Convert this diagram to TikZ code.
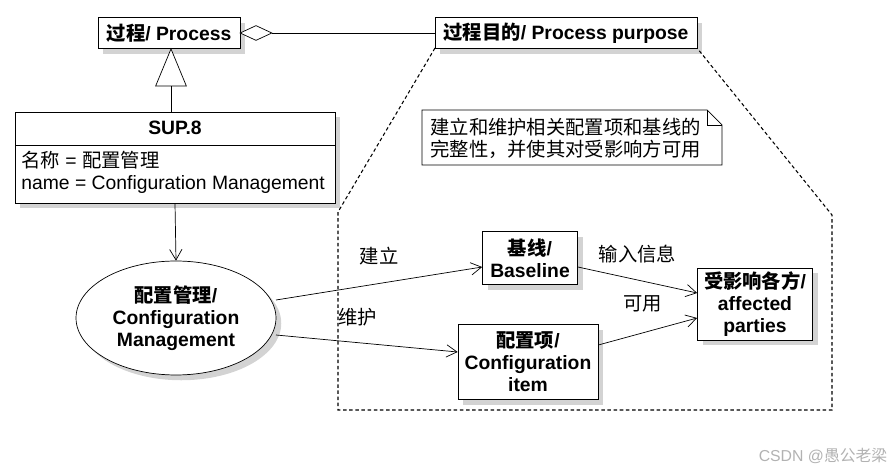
\documentclass[tikz,border=0pt]{standalone}
\usepackage{fontspec}
\setmainfont{Liberation Sans}
\newfontfamily\cjk{Noto Sans CJK SC}
\newcommand{\zh}[1]{{\cjk #1}}
\usetikzlibrary{shapes.geometric,shapes.misc,arrows.meta,shadows}

\begin{document}
\begin{tikzpicture}[x=0.02cm, y=-0.02cm,
    every node/.style={font=\fontsize{11}{12.5}\selectfont},
    box/.style={rectangle, draw=black, fill=white, inner sep=2pt,
        drop shadow={shadow xshift=3pt, shadow yshift=-3pt, opacity=0.35},
        font=\fontsize{11}{12.5}\selectfont\bfseries, align=center},
    flow/.style={-{Straight Barb[length=6pt,width=7pt]}, thin},
    label/.style={font=\fontsize{11}{12.5}\selectfont}
]
    \useasboundingbox (0,0) rectangle (892,472);
    % classes
    \node[box, minimum width=2.84cm, minimum height=0.62cm] (proc) at (169,33) {\zh{过程}/ Process};
    \node[box, minimum width=5.24cm, minimum height=0.62cm] (purp) at (566,33) {\zh{过程目的}/ Process purpose};
    \node[box, minimum width=6.4cm, minimum height=1.82cm] (sup) at (175,157.5) {};
    \node[font=\fontsize{11}{12.5}\selectfont\bfseries] (supt) at (175,128) {SUP.8};
    \draw (15,145) -- (335,145);
    \node[label, anchor=north west, align=left, inner sep=0pt] (attr) at (21,151)
        {\zh{名称} = \zh{配置管理}\\name = Configuration Management};
    % aggregation and generalization
    \node[diamond, draw, fill=white, minimum width=0.64cm, minimum height=0.3cm, inner sep=0pt] (dia) at (256,33) {};
    \draw (dia.east) -- (purp.west);
    \node[isosceles triangle, shape border rotate=90, draw, fill=white,
        minimum height=0.74cm, minimum width=0.5cm, inner sep=0pt, anchor=apex] (tri) at (171,48) {};
    \draw (tri.south) -- (tri.south |- sup.north);
    % use case
    \node[ellipse, draw, fill=white, minimum width=4cm, minimum height=2.28cm,
        drop shadow={shadow xshift=3pt, shadow yshift=-3pt, opacity=0.35},
        font=\fontsize{11}{12.5}\selectfont\bfseries, align=center] (cm) at (176,318)
        {\zh{配置管理}/\\Configuration\\Management};
    \draw[flow] (sup.south) -- (cm.north);
    % purpose region
    \draw[semithick, dash pattern=on 2pt off 1.5pt] (435,48) -- (338,212) -- (338,410) -- (832,410) -- (832,215) -- (697,48);
    \draw (422,110) -- (707,110) -- (722,125) -- (722,165) -- (422,165) -- cycle;
    \draw (707,110) -- (707,125) -- (722,125);
    \node[label, align=left, inner sep=0pt, anchor=north west] (note) at (430,118)
        {\zh{建立和维护相关配置项和基线的}\\\zh{完整性，并使其对受影响方可用}};
    \node[box, minimum width=1.9cm, minimum height=1.06cm] (base) at (530,258) {\zh{基线}/\\Baseline};
    \node[box, minimum width=2.8cm, minimum height=1.5cm] (item) at (528,362) {\zh{配置项}/\\Configuration\\item};
    \node[box, minimum width=2.3cm, minimum height=1.4cm] (aff) at (755,304) {\zh{受影响各方}/\\affected\\parties};
    \coordinate (cm1) at (276,300);
    \coordinate (cm2) at (276,335);
    \draw[flow] (cm1) -- (base.west |- 0,267) node[label, pos=0.5, above=7pt] {\zh{建立}};
    \draw[flow] (cm2) -- (item.west |- 0,352) node[label, pos=0.45, above=6pt] {\zh{维护}};
    \draw[flow] (base.east |- 0,267) -- (aff.west |- 0,293) node[label, pos=0.5, above=6pt] {\zh{输入信息}};
    \draw[flow] (item.east |- 0,345) -- (aff.west |- 0,318) node[label, pos=0.45, above=8pt] {\zh{可用}};
    % watermark
    \node[text=gray!60, font=\fontsize{9}{10}\selectfont] (wm) at (823,456) {CSDN @\zh{愚公老梁}};
\end{tikzpicture}
\end{document}
